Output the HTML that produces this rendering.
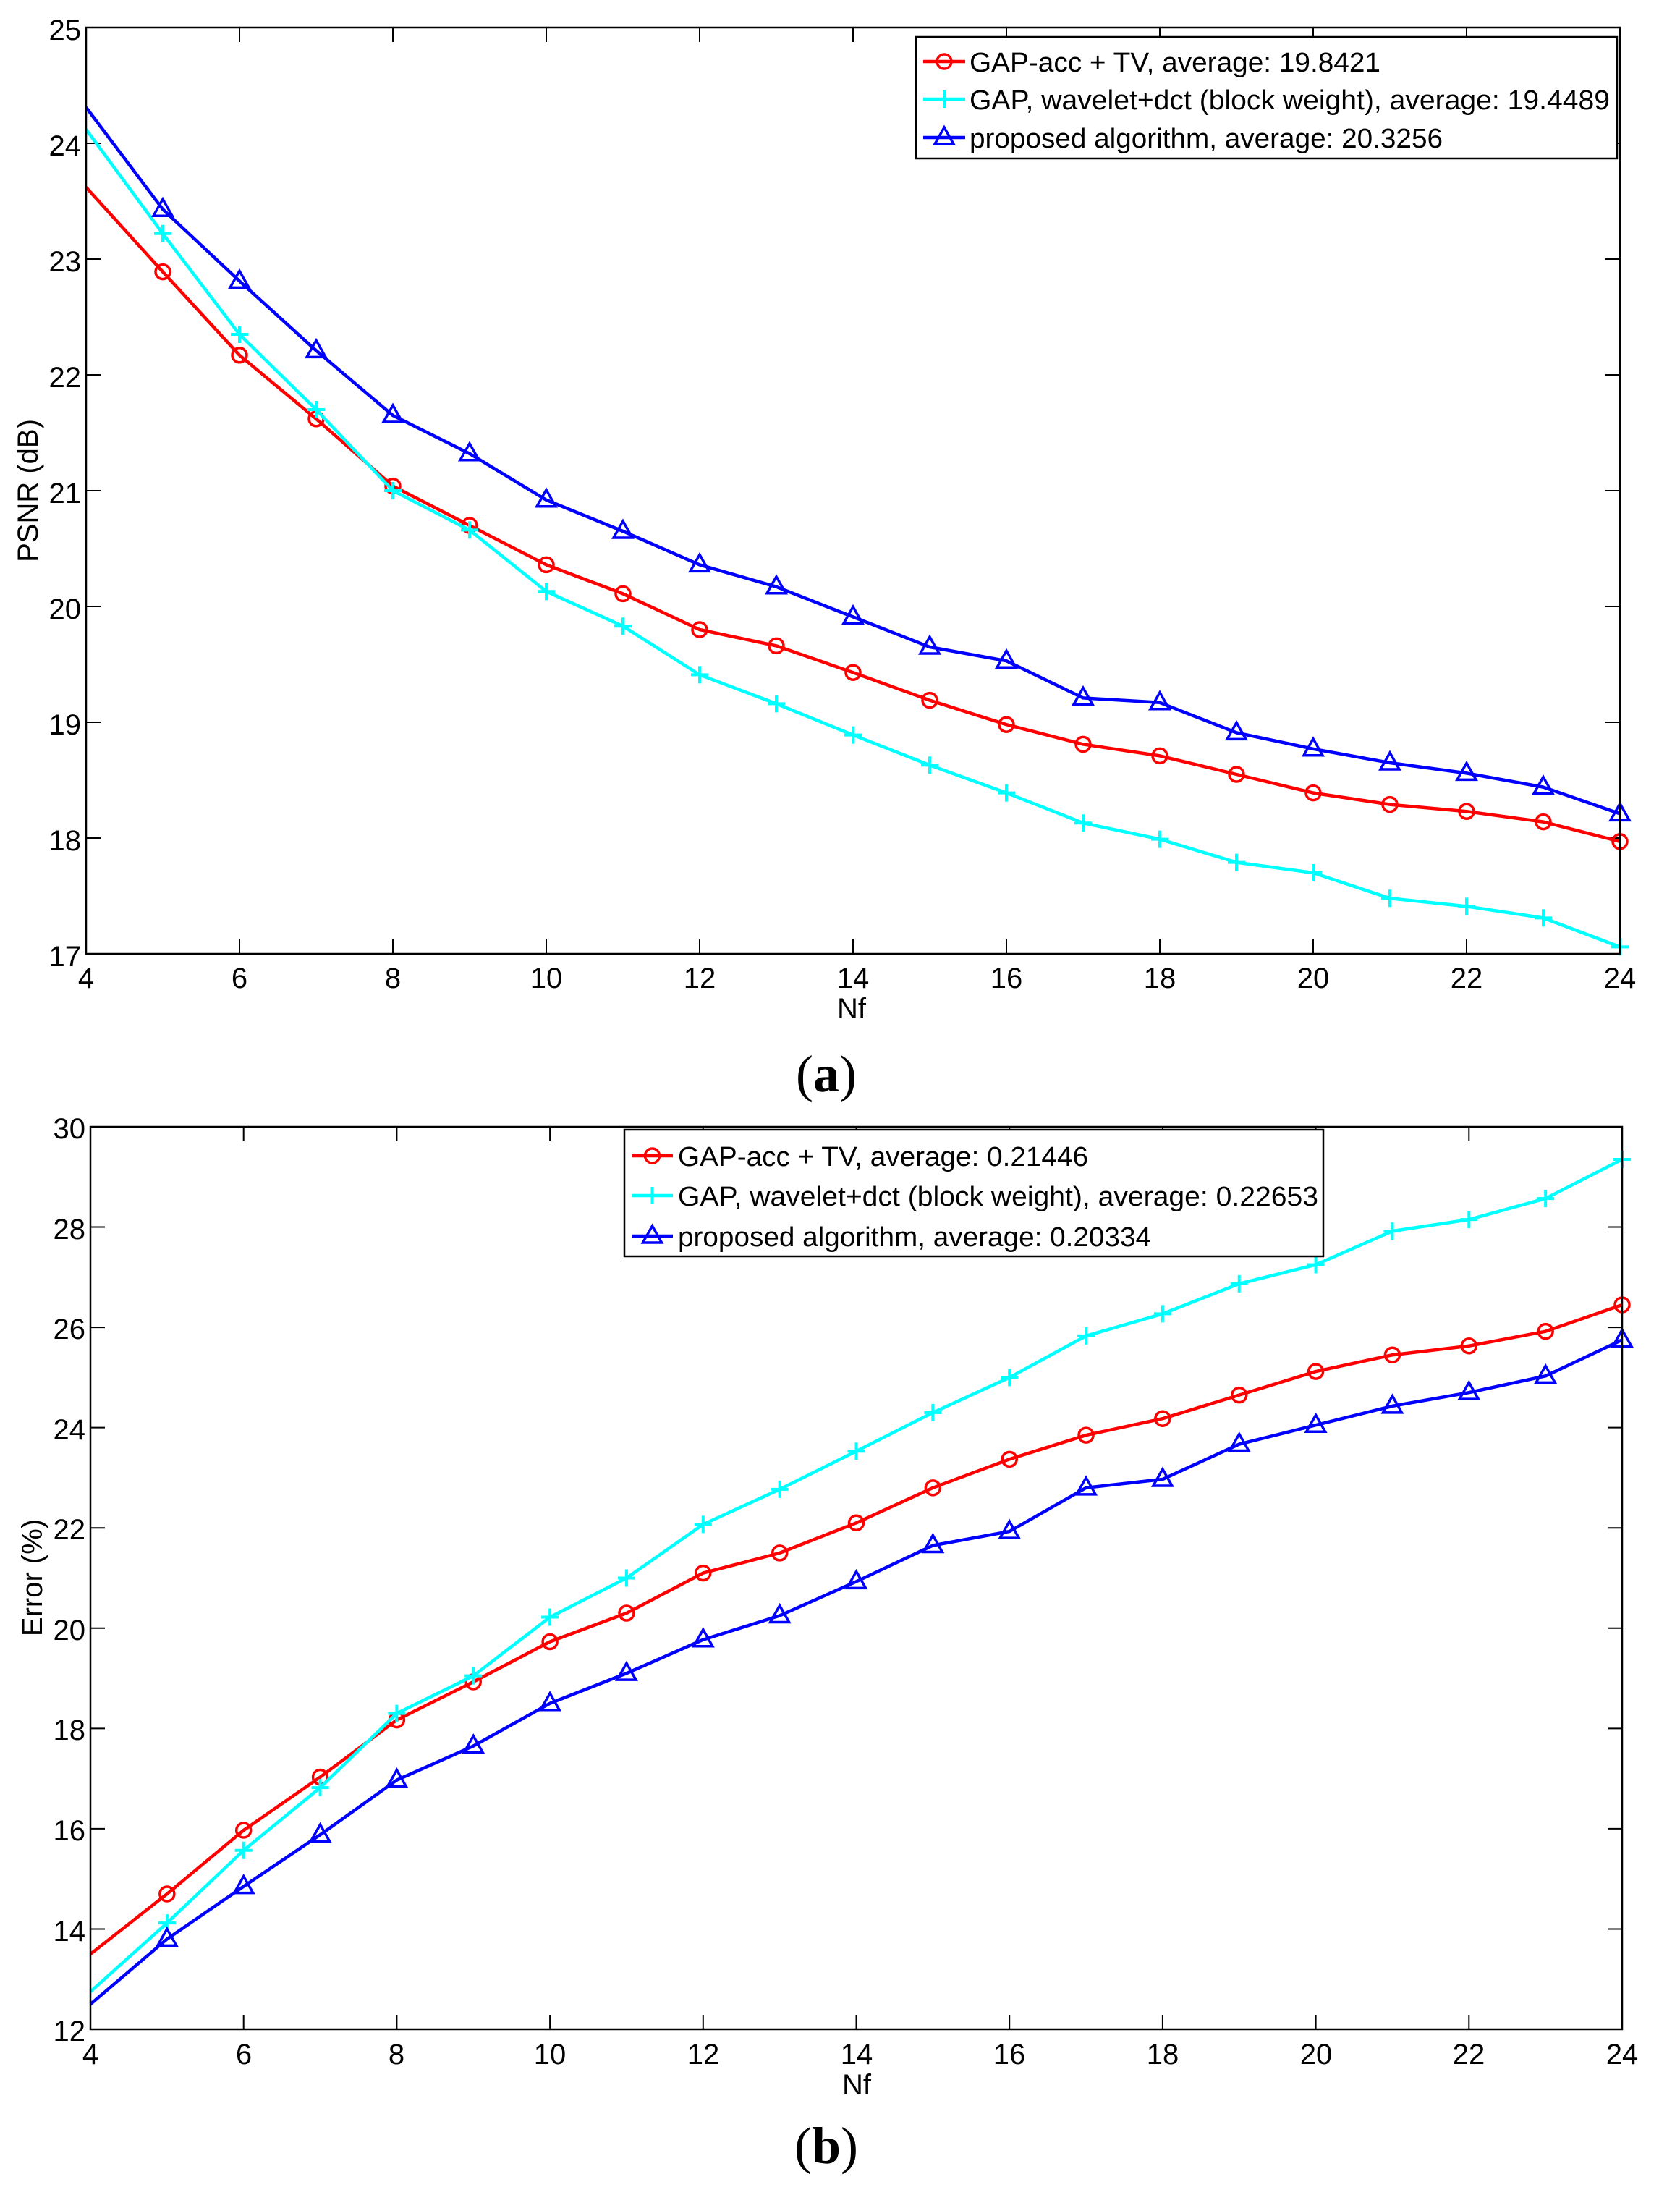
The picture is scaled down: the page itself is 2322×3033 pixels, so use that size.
<!DOCTYPE html>
<html><head><meta charset="utf-8"><style>
html,body{margin:0;padding:0;background:#fff;}
svg{display:block;}
text{font-family:"Liberation Sans",Arial,sans-serif;fill:#000;}
.t{font-size:40px;}
.l{font-size:38px;}
.cap{font-family:"Liberation Serif",serif;font-size:72px;}
</style></head><body>
<svg id="s" width="2322" height="3033" viewBox="0 0 2322 3033" xmlns="http://www.w3.org/2000/svg">
<rect width="2322" height="3033" fill="#fff"/>
<g id="ga"></g>
<g id="gb"></g>
<!-- Axes (a) -->
<rect x="119" y="38" width="2120" height="1280" fill="none" stroke="#000" stroke-width="2.5"/>
<g class="t" text-anchor="end">
<text x="112" y="55">25</text><text x="112" y="215">24</text><text x="112" y="375">23</text>
<text x="112" y="535">22</text><text x="112" y="695">21</text><text x="112" y="855">20</text>
<text x="112" y="1015">19</text><text x="112" y="1175">18</text><text x="112" y="1335">17</text>
</g>
<g class="t" text-anchor="middle">
<text x="119" y="1365">4</text><text x="331" y="1365">6</text><text x="543" y="1365">8</text>
<text x="755" y="1365">10</text><text x="967" y="1365">12</text><text x="1179" y="1365">14</text>
<text x="1391" y="1365">16</text><text x="1603" y="1365">18</text><text x="1815" y="1365">20</text>
<text x="2027" y="1365">22</text><text x="2239" y="1365">24</text>
<text x="1177" y="1407">Nf</text>
</g>
<text class="t" text-anchor="middle" transform="translate(52,678) rotate(-90)">PSNR (dB)</text>
<text class="cap" x="1142" y="1508" text-anchor="middle">(<tspan font-weight="bold">a</tspan>)</text>

<!-- Axes (b) -->
<rect x="125" y="1557" width="2117" height="1247" fill="none" stroke="#000" stroke-width="2.5"/>
<g class="t" text-anchor="end">
<text x="118" y="1573">30</text><text x="118" y="1712">28</text><text x="118" y="1850">26</text>
<text x="118" y="1989">24</text><text x="118" y="2127">22</text><text x="118" y="2266">20</text>
<text x="118" y="2404">18</text><text x="118" y="2543">16</text><text x="118" y="2682">14</text>
<text x="118" y="2820">12</text>
</g>
<g class="t" text-anchor="middle">
<text x="125" y="2852">4</text><text x="337" y="2852">6</text><text x="548" y="2852">8</text>
<text x="760" y="2852">10</text><text x="972" y="2852">12</text><text x="1184" y="2852">14</text>
<text x="1395" y="2852">16</text><text x="1607" y="2852">18</text><text x="1819" y="2852">20</text>
<text x="2030" y="2852">22</text><text x="2242" y="2852">24</text>
<text x="1184" y="2894">Nf</text>
</g>
<text class="t" text-anchor="middle" transform="translate(58,2180) rotate(-90)">Error (%)</text>
<text class="cap" x="1142" y="2989" text-anchor="middle">(<tspan font-weight="bold">b</tspan>)</text>

<!-- Legend (a) -->
<rect x="1266" y="51" width="969" height="168" fill="#fff" stroke="#000" stroke-width="2.5"/>
<g class="l">
<text x="1340" y="99" textLength="568" lengthAdjust="spacingAndGlyphs">GAP-acc + TV, average: 19.8421</text>
<text x="1340" y="151" textLength="885" lengthAdjust="spacingAndGlyphs">GAP, wavelet+dct (block weight), average: 19.4489</text>
<text x="1340" y="204" textLength="654" lengthAdjust="spacingAndGlyphs">proposed algorithm, average: 20.3256</text>
</g>
<!-- Legend (b) -->
<rect x="863" y="1561" width="966" height="175" fill="#fff" stroke="#000" stroke-width="2.5"/>
<g class="l">
<text x="937" y="1611" textLength="567" lengthAdjust="spacingAndGlyphs">GAP-acc + TV, average: 0.21446</text>
<text x="937" y="1666" textLength="885" lengthAdjust="spacingAndGlyphs">GAP, wavelet+dct (block weight), average: 0.22653</text>
<text x="937" y="1722" textLength="654" lengthAdjust="spacingAndGlyphs">proposed algorithm, average: 0.20334</text>
</g>
<g id="leg"></g>
</svg>
<script>
var NS="http://www.w3.org/2000/svg";
function el(p,n,a){var e=document.createElementNS(NS,n);for(var k in a)e.setAttribute(k,a[k]);p.appendChild(e);return e;}
function marker(g,type,x,y,c){
 if(type==="o")el(g,"circle",{cx:x,cy:y,r:10,fill:"none",stroke:c,"stroke-width":3.5});
 else if(type==="+"){el(g,"path",{d:"M"+(x-12)+" "+y+"H"+(x+12)+"M"+x+" "+(y-12)+"V"+(y+12),stroke:c,"stroke-width":4,fill:"none"});}
 else el(g,"path",{d:"M"+x+" "+(y-14)+"L"+(x+13)+" "+(y+9)+"L"+(x-13)+" "+(y+9)+"Z",fill:"none",stroke:c,"stroke-width":3.5});
}
function plot(g,X0,XS,Y0,V0,YS,data,skip){
 var ser=[["#f00","o"],["#0ff","+"],["#00f","^"]];
 data.forEach(function(d,i){
  var pts=d.map(function(v,j){return [X0+j*XS,Y0+(V0-v)*YS];});
  el(g,"polyline",{points:pts.map(function(p){return p.join(",")}).join(" "),fill:"none",stroke:ser[i][0],"stroke-width":4.5,"stroke-linejoin":"round"});
  pts.forEach(function(p,j){if(j>0)marker(g,ser[i][1],p[0],p[1],ser[i][0]);});
 });
}
function ticks(g,x0,x1,y0,y1,xs,ys){
 xs.forEach(function(x){el(g,"path",{d:"M"+x+" "+y1+"v-20M"+x+" "+y0+"v20",stroke:"#000","stroke-width":2});});
 ys.forEach(function(y){el(g,"path",{d:"M"+x0+" "+y+"h20M"+x1+" "+y+"h-20",stroke:"#000","stroke-width":2});});
}
var ga=document.getElementById("ga"),gb=document.getElementById("gb");
var A=[[23.62,22.89,22.17,21.62,21.04,20.70,20.36,20.11,19.80,19.66,19.43,19.19,18.98,18.81,18.71,18.55,18.39,18.29,18.23,18.14,17.97],
[24.12,23.22,22.35,21.70,21.00,20.66,20.13,19.83,19.41,19.16,18.89,18.63,18.39,18.13,17.99,17.79,17.70,17.48,17.41,17.31,17.06],
[24.31,23.43,22.81,22.21,21.65,21.32,20.92,20.65,20.36,20.17,19.91,19.65,19.53,19.21,19.17,18.91,18.77,18.65,18.56,18.44,18.21]];
var B=[[13.5,14.7,15.97,17.03,18.17,18.93,19.73,20.3,21.1,21.5,22.1,22.8,23.37,23.85,24.18,24.65,25.12,25.45,25.63,25.92,26.45],
[12.75,14.12,15.57,16.82,18.3,19.05,20.22,21.0,22.07,22.77,23.53,24.3,25.0,25.83,26.27,26.87,27.25,27.92,28.15,28.57,29.35],
[12.5,13.8,14.85,15.88,16.97,17.65,18.5,19.1,19.77,20.25,20.93,21.65,21.93,22.8,22.97,23.67,24.05,24.43,24.7,25.03,25.75]];
var xa=[],ya=[],xb=[],yb=[];
for(var v=6;v<=22;v+=2){xa.push(119+(v-4)*106);xb.push(125+(v-4)*105.85);}
for(var v=24;v>=18;v--)ya.push(38+(25-v)*160);
for(var v=28;v>=14;v-=2)yb.push(1557+(30-v)*69.28);
ticks(ga,119,2239,38,1318,xa,ya);
ticks(gb,125,2242,1557,2804,xb,yb);
plot(ga,119,106,38,25,160,A);
plot(gb,125,105.85,1557,30,69.28,B);
var lg=document.getElementById("leg");
var ser=[["#f00","o"],["#0ff","+"],["#00f","^"]];
[[85,137,190,1276,1334],[1597,1652,1708,873,930]].forEach(function(L){
 for(var i=0;i<3;i++){var y=L[i];el(lg,"line",{x1:L[3],y1:y,x2:L[4],y2:y,stroke:ser[i][0],"stroke-width":4.5});marker(lg,ser[i][1],(L[3]+L[4])/2,y,ser[i][0]);}
});
</script>
</body></html>
